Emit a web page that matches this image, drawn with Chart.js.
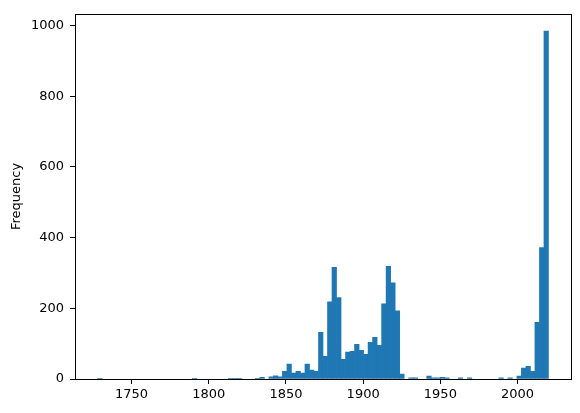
<!DOCTYPE html>
<html>
<head>
<meta charset="utf-8">
<script src="https://cdn.jsdelivr.net/npm/chart.js@4"></script>
<style>
  html, body { margin: 0; padding: 0; background: #fff; }
  #wrap { width: 580px; height: 413px; position: relative; }
</style>
</head>
<body>
<div id="wrap"><canvas id="c" width="580" height="413"></canvas></div>
<script>
// Histogram: 100 equal bins between binStart and binEnd
const binStart = 1728;
const binEnd = 2020;
const counts = [
  1, 0, 0, 0, 0, 0, 0, 0, 0, 0,
  0, 0, 0, 0, 0, 0, 0, 0, 0, 0,
  0, 2, 0, 0, 0, 0, 0, 0, 0, 2,
  2, 2, 0, 0, 0, 2, 5, 0, 6, 9,
  6, 22, 42, 17, 22, 17, 42, 25, 22, 132,
  64, 218, 316, 230, 56, 76, 78, 98, 81, 70,
  104, 118, 95, 213, 319, 272, 193, 14, 0, 3,
  3, 0, 0, 8, 3, 3, 5, 3, 0, 0,
  3, 0, 3, 0, 0, 0, 0, 0, 0, 3,
  0, 3, 0, 8, 31, 36, 22, 160, 372, 984
];
const xTicks = [1750, 1800, 1850, 1900, 1950, 2000];
const yTicks = [0, 200, 400, 600, 800, 1000];
const yLabel = 'Frequency';

const binWidth = (binEnd - binStart) / counts.length;
const points = counts.map((c, i) => ({ x: binStart + (i + 0.5) * binWidth, y: c === 0 ? null : c }));
const span = binEnd - binStart;
const yMax = Math.max(...counts) * 1.05;

const FONT = 'DejaVu Sans';

const framePlugin = {
  id: 'frame',
  afterDraw(chart) {
    const { ctx, chartArea: a } = chart;
    ctx.save();
    ctx.strokeStyle = '#000';
    ctx.lineWidth = 1;
    const l = Math.round(a.left) + 0.5, t = Math.round(a.top) + 0.5;
    const r = Math.round(a.right) + 0.5, b = Math.round(a.bottom) + 0.5;
    ctx.strokeRect(l, t, r - l, b - t);
    ctx.restore();
  }
};

new Chart(document.getElementById('c'), {
  type: 'bar',
  data: {
    datasets: [{
      data: points,
      backgroundColor: '#1f77b4',
      borderWidth: 0,
      barPercentage: 1.0,
      categoryPercentage: 1.0
    }]
  },
  options: {
    responsive: false,
    animation: false,
    devicePixelRatio: 1,
    layout: { padding: { left: 0, right: 9, top: 10, bottom: 0 } },
    plugins: { legend: { display: false }, tooltip: { enabled: false } },
    scales: {
      x: {
        type: 'linear',
        offset: false,
        min: binStart - 0.05 * span,
        max: binEnd + 0.05 * span,
        afterBuildTicks: s => { s.ticks = xTicks.map(v => ({ value: v })); },
        afterFit: s => { s.height = 34; },
        border: { display: false },
        grid: { offset: false, drawOnChartArea: false, drawTicks: true, tickLength: 5, color: '#000', lineWidth: 1 },
        ticks: {
          color: '#000', padding: 3, maxRotation: 0, autoSkip: false,
          font: { family: FONT, size: 13 },
          callback: v => String(v)
        }
      },
      y: {
        type: 'linear',
        min: 0,
        max: yMax,
        afterBuildTicks: s => { s.ticks = yTicks.map(v => ({ value: v })); },
        afterFit: s => { s.width = 75; },
        border: { display: false },
        grid: { drawOnChartArea: false, drawTicks: true, tickLength: 5, color: '#000', lineWidth: 1 },
        title: { display: true, text: yLabel, color: '#000', font: { family: FONT, size: 13 }, padding: { top: 9, bottom: 0 } },
        ticks: {
          color: '#000', padding: 6, autoSkip: false,
          font: { family: FONT, size: 13 },
          callback: v => String(v)
        }
      }
    }
  },
  plugins: [framePlugin]
});
</script>
</body>
</html>
